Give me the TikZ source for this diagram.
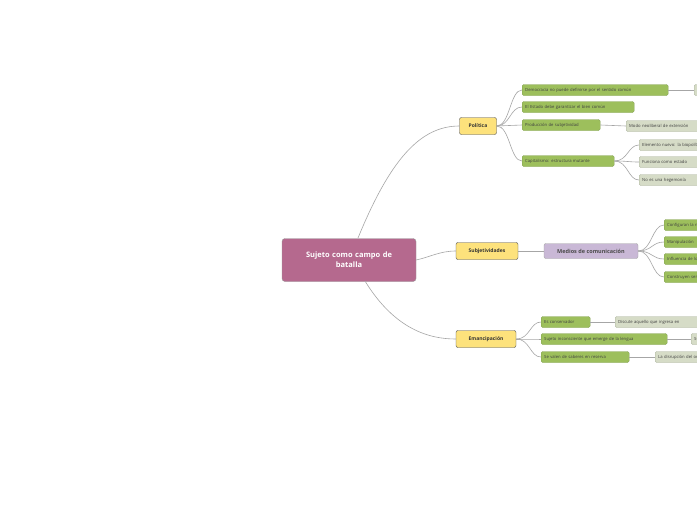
\documentclass[tikz,border=0pt]{standalone}
\usepackage{fontspec}
\setmainfont{Open Sans}
\begin{document}
\begin{tikzpicture}[x=1pt,y=-1pt,
 base/.style={rounded corners=1.5pt,inner sep=0pt,anchor=west,font=\fontsize{4.2}{5}\selectfont,text=black!75},
 grn/.style={base,fill={rgb,255:red,157;green,191;blue,92},draw={rgb,255:red,130;green,160;blue,80},minimum height=11pt,text width=#1,align=left,inner xsep=3pt},
 gry/.style={base,fill={rgb,255:red,214;green,220;blue,199},draw={rgb,255:red,170;green,178;blue,155},minimum height=11pt,text width=#1,align=left,inner xsep=3pt},
 yel/.style={rounded corners=2pt,fill={rgb,255:red,253;green,226;blue,124},draw=black!70,minimum height=17pt,inner sep=0pt,font=\fontsize{5}{6}\selectfont\bfseries,text=black!80,minimum width=#1},
 ln/.style={draw=black!35,line width=0.6pt}]
\useasboundingbox (0,0) rectangle (697,520);
\fill[white] (0,0) rectangle (697,520);
\clip (0,0) rectangle (697,520);
% root
\node[rounded corners=3pt,fill={rgb,255:red,181;green,105;blue,142},draw=black!40,minimum width=134pt,minimum height=43pt,text width=100pt,align=center,text=white,font=\fontsize{7.5}{10}\selectfont\bfseries] (root) at (349,260) {Sujeto como campo de\\ batalla};
\node[yel=37pt] (pol) at (478,126) {Política};
\node[yel=62pt] (sub) at (487,251) {Subjetividades};
\node[yel=60pt] (ema) at (486,339) {Emancipación};
\node[rounded corners=2pt,fill={rgb,255:red,201;green,184;blue,214},draw=black!35,minimum width=94pt,minimum height=15pt,inner sep=0pt,font=\fontsize{5.5}{6}\selectfont\bfseries,text=black!70] (med) at (591,251) {Medios de comunicación};
% politica children
\node[grn=140pt] (p1) at (522,90) {Democracia no puede definirse por el sentido común};
\node[grn=106pt] (p2) at (522,107) {El Estado debe garantizar el bien común};
\node[grn=72pt] (p3) at (522,125) {Producción de subjetividad};
\node[grn=86pt] (p4) at (522,161) {Capitalismo: estructura mutante};
\node[gry=60pt] (p1a) at (694,90) {Democracia};
\node[gry=110pt] (p3a) at (626,126) {Modo neoliberal de extensión};
\node[gry=100pt] (p4a) at (639,145) {Elemento nuevo: la biopolítica};
\node[gry=100pt] (p4b) at (639,162) {Funciona como estado};
\node[gry=100pt] (p4c) at (639,180) {No es una hegemonía};
% medios children
\node[grn=70pt] (m1) at (664,225) {Configuran la realidad};
\node[grn=70pt] (m2) at (664,242) {Manipulación};
\node[grn=70pt] (m3) at (664,259) {Influencia de los medios};
\node[grn=70pt] (m4) at (664,277) {Construyen sentido};
% emancipacion children
\node[grn=43pt] (e1) at (541,322) {Es conservador};
\node[grn=120pt] (e2) at (541,339) {Sujeto inconsciente que emerge de la lengua};
\node[grn=82pt] (e3) at (541,357) {Se valen de saberes en reserva};
\node[gry=110pt] (e1a) at (615,322) {Discute aquello que ingresa en};
\node[gry=60pt] (e2a) at (691,339) {Sujeto};
\node[gry=80pt] (e3a) at (655,357) {La disrupción del orden};
% connectors
\draw[ln] (358,238) .. controls (390,160) and (420,126) .. (pol.west);
\draw[ln] (root.east) .. controls (430,257) and (440,251) .. (sub.west);
\draw[ln] (365,281) .. controls (395,330) and (430,339) .. (ema.west);
\foreach \c in {p1,p2,p3,p4} \draw[ln] (pol.east) .. controls (510,126) and (510,0|-\c.west) .. (\c.west);
\draw[ln] (sub.east) -- (med.west);
\foreach \c in {m1,m2,m3,m4} \draw[ln] (med.east) .. controls (652,251) and (652,0|-\c.west) .. (\c.west);
\foreach \c in {e1,e2,e3} \draw[ln] (ema.east) .. controls (530,339) and (530,0|-\c.west) .. (\c.west);
\draw[ln] (p1.east) -- (p1a.west);
\draw[ln] (p3.east) -- (p3a.west);
\foreach \c in {p4a,p4b,p4c} \draw[ln] (p4.east) .. controls (628,161) and (628,0|-\c.west) .. (\c.west);
\draw[ln] (e1.east) -- (e1a.west);
\draw[ln] (e2.east) -- (e2a.west);
\draw[ln] (e3.east) -- (e3a.west);
\end{tikzpicture}
\end{document}
